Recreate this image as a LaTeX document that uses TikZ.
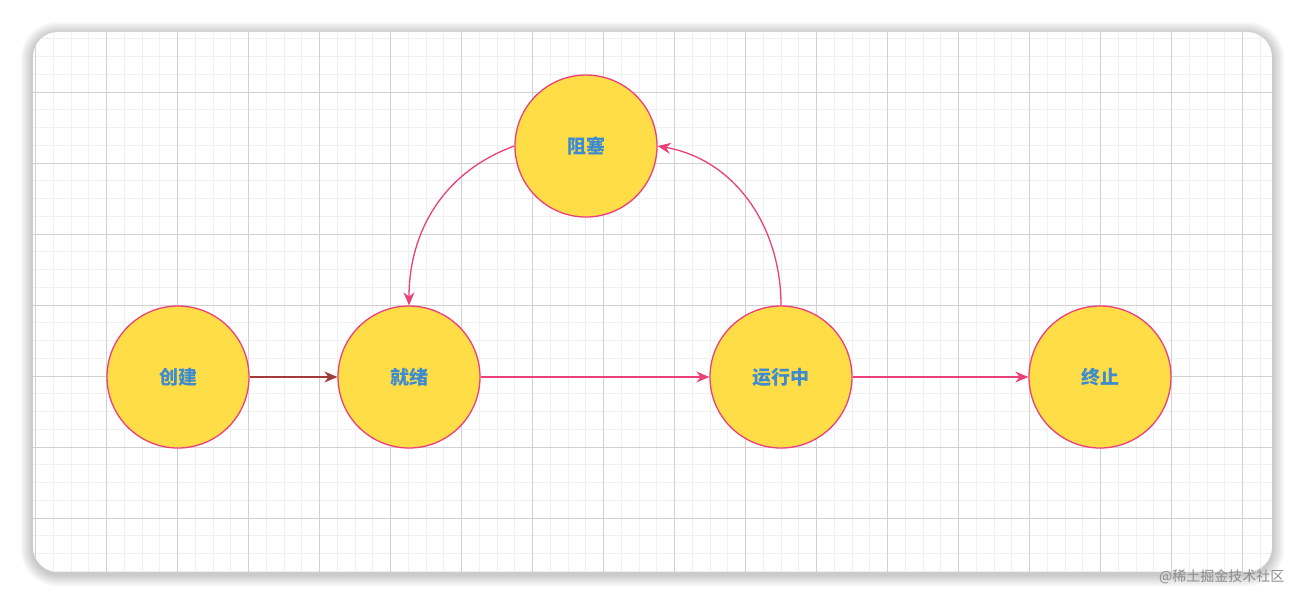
\documentclass[tikz,border=0pt]{standalone}
\usepackage{fontspec}
\newfontfamily\cjk{Noto Sans CJK SC}
\usetikzlibrary{arrows.meta}
\definecolor{fillY}{HTML}{FFDD47}
\definecolor{edgeP}{HTML}{EC407A}
\definecolor{txtB}{HTML}{3D8BD0}
\definecolor{darkR}{HTML}{A33A3A}
\tikzset{
  state/.style={circle,draw=edgeP,line width=1.3pt,fill=fillY,minimum size=142pt,inner sep=0pt,font=\cjk\bfseries\fontsize{19}{22}\selectfont,text=txtB},
  flow/.style={draw=edgeP,line width=1.3pt,-{Stealth[length=13pt,width=11pt]}}
}
\begin{document}
\begin{tikzpicture}[x=1pt,y=-1pt]
\useasboundingbox (0,0) rectangle (1304,603);
\fill[white] (0,0) rectangle (1304,603);
\foreach \s in {12,10,8,6,4,2} {
  \fill[black,opacity=0.035,rounded corners={25pt+\s pt}] ({33-\s},{32-\s+2}) rectangle ({1272+\s},{572+\s+2});
}
\begin{scope}
\clip[rounded corners=25pt] (33,32) rectangle (1272,572);
\fill[white] (33,32) rectangle (1272,572);
\foreach \i in {-8,...,70} {
  \draw[black!6,line width=0.8pt] ({35.5+17.75*\i},32) -- ({35.5+17.75*\i},572);
}
\foreach \i in {-8,...,34} {
  \draw[black!6,line width=0.8pt] (33,{21+17.75*\i}) -- (1272,{21+17.75*\i});
}
\foreach \i in {-1,...,18} {
  \draw[black!18,line width=0.8pt] ({35.5+71*\i},32) -- ({35.5+71*\i},572);
}
\foreach \i in {-1,...,8} {
  \draw[black!18,line width=0.8pt] (33,{21+71*\i}) -- (1272,{21+71*\i});
}
\end{scope}
\node[state] (c) at (178,377) {创建};
\node[state] (r) at (409,377) {就绪};
\node[state] (u) at (781,377) {运行中};
\node[state] (t) at (1100,377) {终止};
\node[state] (b) at (586,146) {阻塞};
\draw[flow,draw=darkR] (c) -- (r);
\draw[flow] (r) -- (u);
\draw[flow] (u) -- (t);
\draw[flow] (b.west) to[out=200,in=90] (r.north);
\draw[flow] (u.north) to[out=90,in=-10] (b.east);
\node[font=\cjk\fontsize{14}{16}\selectfont,text=black!45,anchor=east] (wm) at (1288,577) {@稀土掘金技术社区};
\end{tikzpicture}
\end{document}
